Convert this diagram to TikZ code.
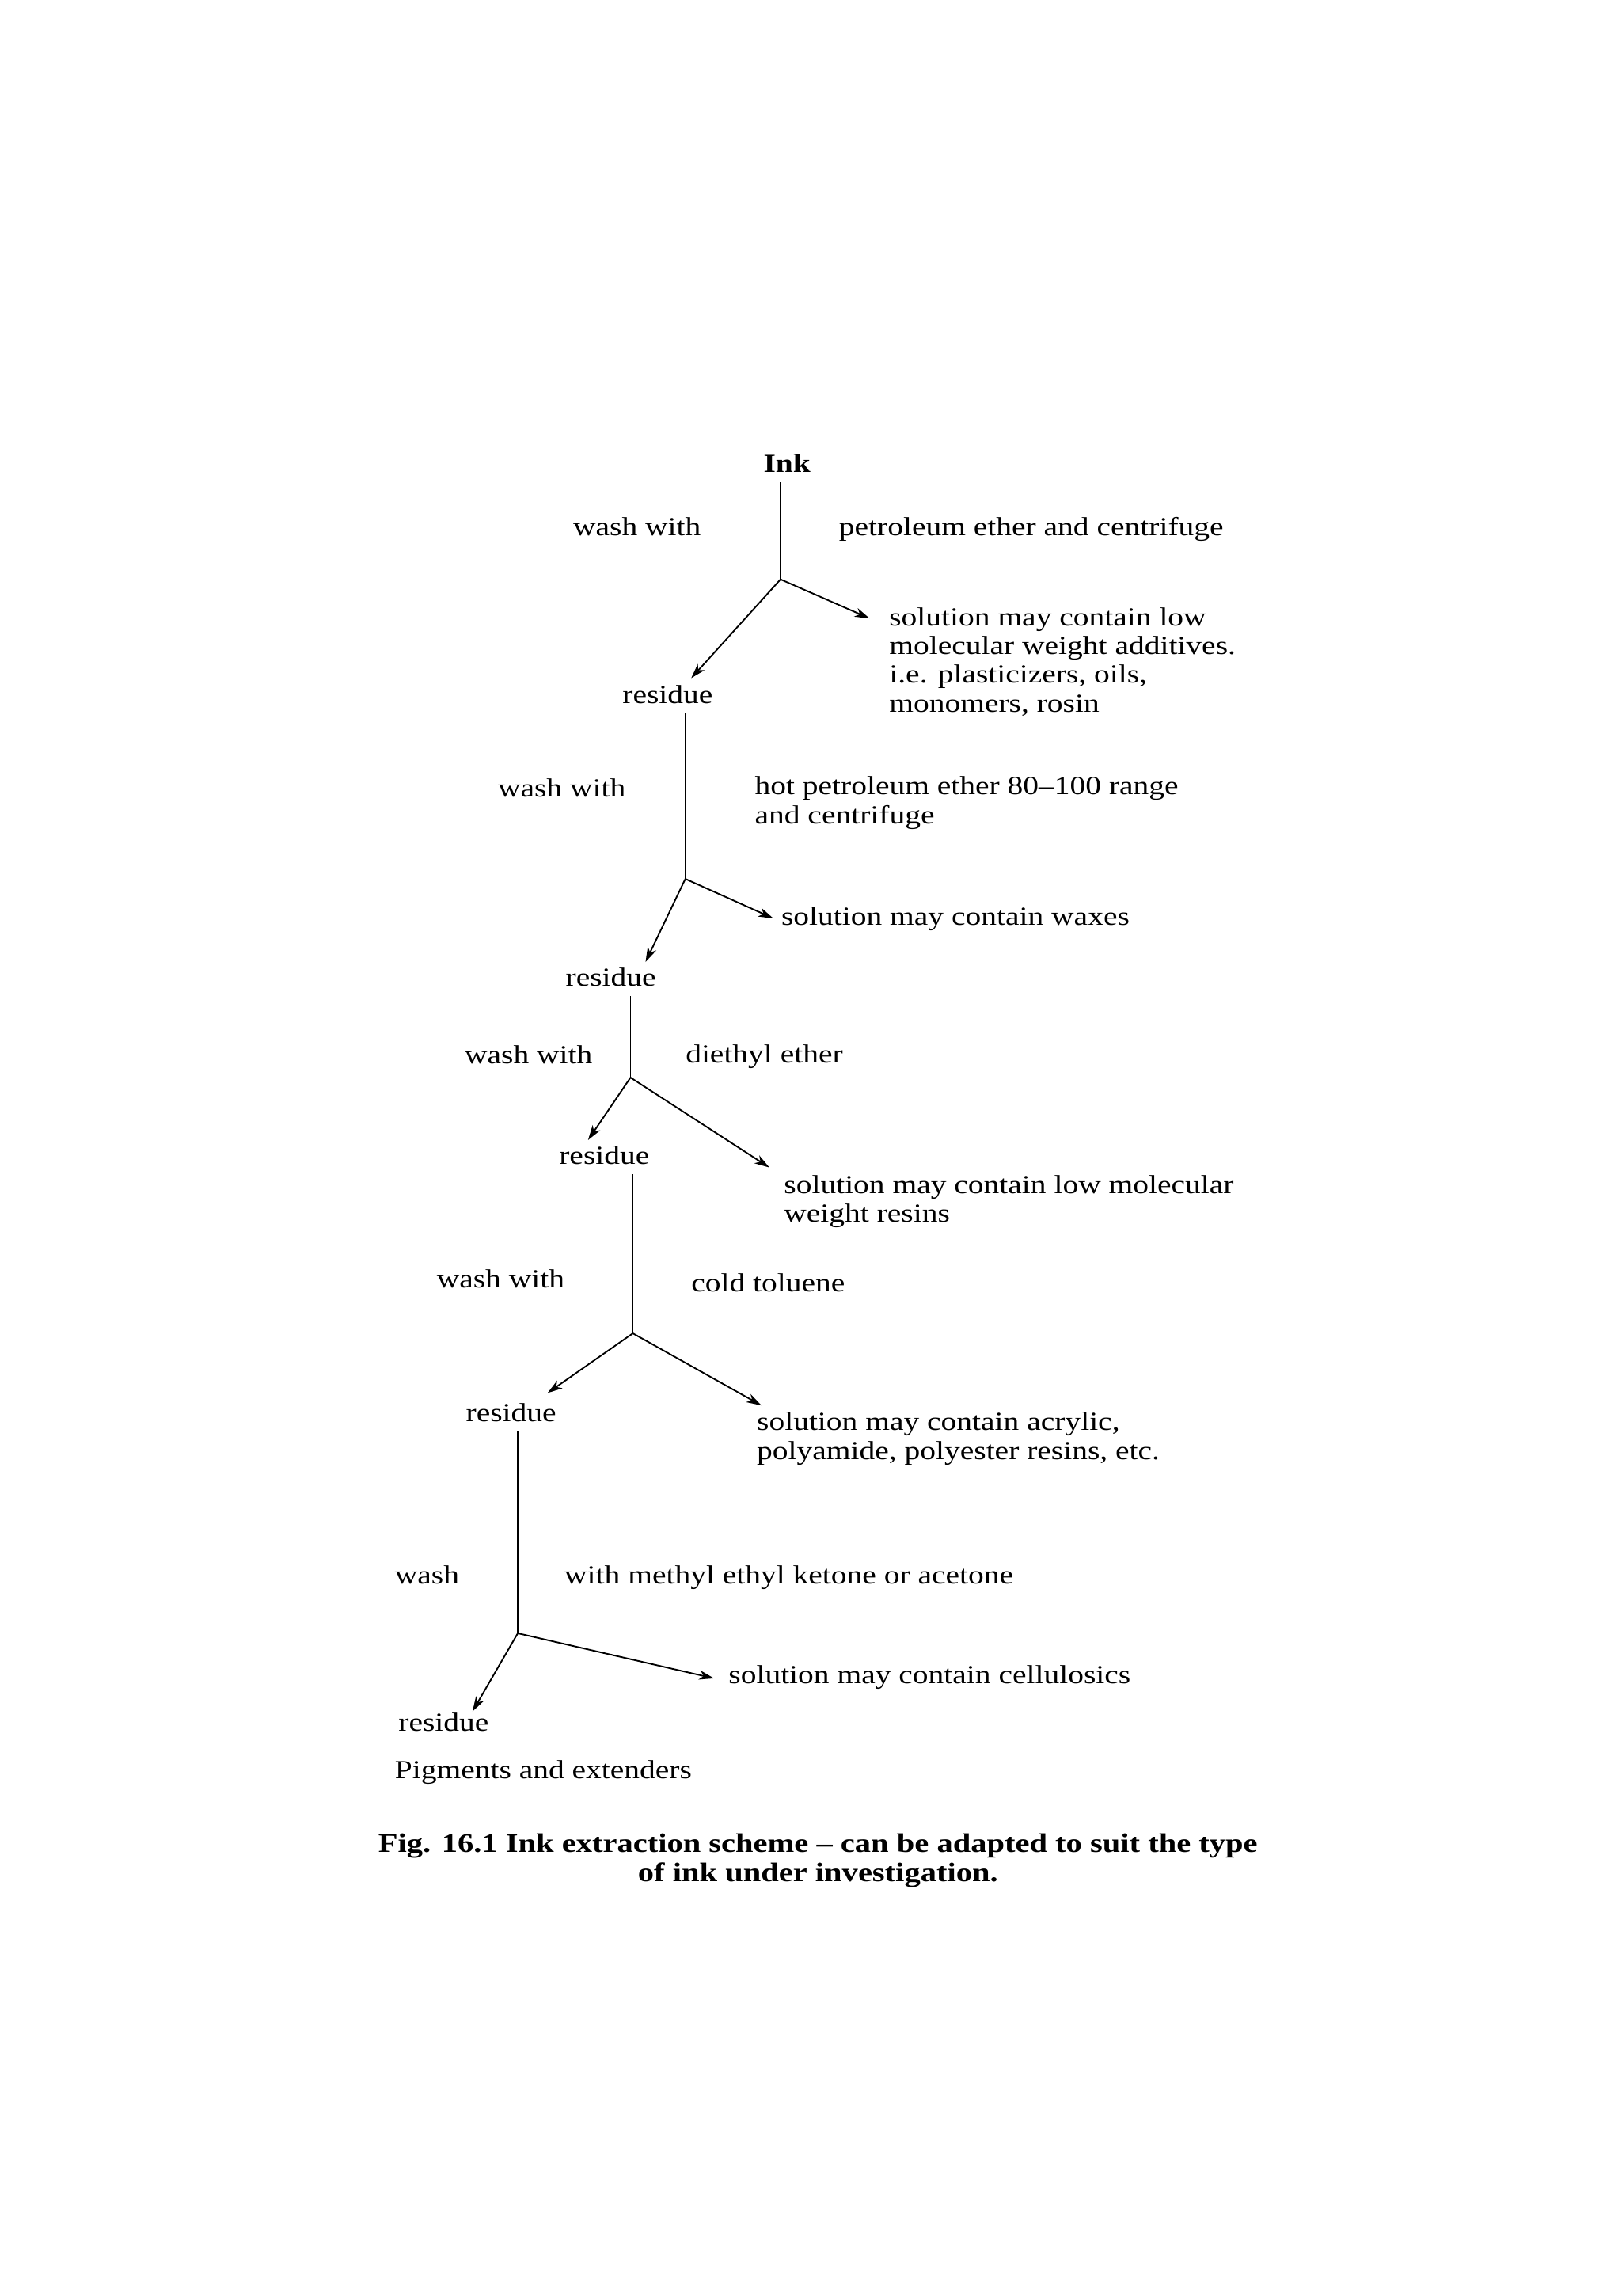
\documentclass[tikz,border=0pt]{standalone}
\usepackage{fontspec}
\setmainfont[FakeStretch=1.2]{Liberation Serif}
\usetikzlibrary{arrows.meta}

\begin{document}
\begin{tikzpicture}[x=0.19091mm,y=-0.19091mm,
    lbl/.style={anchor=base west,inner sep=0pt,font=\fontsize{9.6}{10.6}\selectfont},
    multi/.style={lbl,align=left},
    stem/.style={line width=0.55pt,shorten <=3.5pt},
    splitarrow/.style={line width=0.55pt,-{Stealth[length=5.5pt,width=3.4pt,inset=1.6pt]}}]
    \useasboundingbox (0,0) rectangle (1100,1557.6);

    % start (multi-line nodes sit on their last baseline)
    \node[lbl,anchor=base,font=\fontsize{9.6}{10.6}\selectfont\bfseries] (ink) at (534,320.5) {Ink};
    \coordinate (b1) at (529.6,393);
    \coordinate (r1tip) at (469,460);
    \coordinate (s1tip) at (590,419.5);
    \node[lbl] (wash1) at (388.6,363.4) {wash with};
    \node[lbl] (reag1) at (568.9,363.4) {petroleum ether and centrifuge};
    \node[multi] (sol1) at (603,483) {solution may contain low\\molecular weight additives.\\i.e. plasticizers, oils,\\monomers, rosin};
    \node[lbl] (res1) at (422,477) {residue};

    % step 2
    \coordinate (b2) at (465,596.2);
    \coordinate (r2tip) at (438,652.6);
    \coordinate (s2tip) at (524.7,623);
    \node[lbl] (wash2) at (337.5,540.7) {wash with};
    \node[multi] (reag2) at (511.8,558.6) {hot petroleum ether 80--100 range\\and centrifuge};
    \node[lbl] (sol2) at (529.8,627.5) {solution may contain waxes};
    \node[lbl] (res2) at (383.5,668.7) {residue};

    % step 3
    \coordinate (b3) at (427.8,731);
    \coordinate (r3tip) at (399,773.4);
    \coordinate (s3tip) at (522,792);
    \node[lbl] (wash3) at (315,721.5) {wash with};
    \node[lbl] (reag3) at (464.9,720.8) {diethyl ether};
    \node[lbl] (res3) at (379,789.6) {residue};
    \node[multi] (sol3) at (531.6,829) {solution may contain low molecular\\weight resins};

    % step 4
    \coordinate (b4) at (429.4,904.5);
    \coordinate (r4tip) at (371.5,945);
    \coordinate (s4tip) at (516.6,953.4);
    \node[lbl] (wash4) at (296,873.7) {wash with};
    \node[lbl] (reag4) at (468.7,876.4) {cold toluene};
    \node[lbl] (res4) at (315.8,964.1) {residue};
    \node[multi] (sol4) at (513.2,990) {solution may contain acrylic,\\polyamide, polyester resins, etc.};

    % step 5
    \coordinate (b5) at (351.3,1108);
    \coordinate (r5tip) at (320.6,1161);
    \coordinate (s5tip) at (484.5,1138.6);
    \node[lbl] (wash5) at (267.6,1074.2) {wash};
    \node[lbl] (reag5) at (382.7,1074.2) {with methyl ethyl ketone or acetone};
    \node[lbl] (sol5) at (494,1142.3) {solution may contain cellulosics};
    \node[lbl] (res5) at (270,1174.5) {residue};
    \node[lbl] (pig) at (267.6,1206.7) {Pigments and extenders};

    \node[lbl,anchor=base,align=center,font=\fontsize{9.85}{10.7}\selectfont\bfseries] (cap) at (555,1276.5)
      {Fig. 16.1 Ink extraction scheme -- can be adapted to suit the type\\of ink under investigation.};

    % stems and branches
    \draw[stem] (ink.south -| b1) -- (b1);
    \draw[stem] (res1.south -| b2) -- (b2);
    \draw[stem] (res2.south -| b3) -- (b3);
    \draw[stem] (res3.south -| b4) -- (b4);
    \draw[stem] (res4.south -| b5) -- (b5);
    \foreach \i in {1,...,5} {
      \draw[splitarrow] (b\i) -- (r\i tip);
      \draw[splitarrow] (b\i) -- (s\i tip);
    }
\end{tikzpicture}
\end{document}
